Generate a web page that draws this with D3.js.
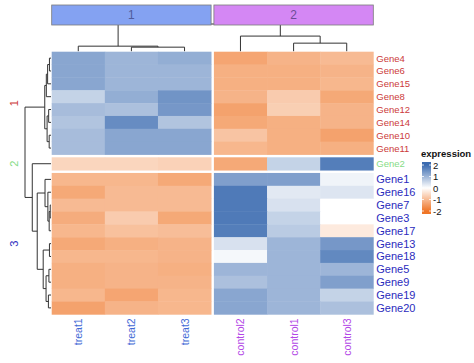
<!DOCTYPE html>
<html>
<head>
<meta charset="utf-8">
<script src="https://cdn.jsdelivr.net/npm/d3@7"></script>
<style>
  body { margin: 0; background: #fff; }
  svg { display: block; font-family: "Liberation Sans", Arial, Helvetica, sans-serif; }
</style>
</head>
<body>
<div id="chart"></div>
<script>
// rows, split in 3 clusters (top to bottom)
const rowSlices = [
  ["Gene4", "Gene6", "Gene15", "Gene8", "Gene12", "Gene14", "Gene10", "Gene11"],
  ["Gene2"],
  ["Gene1", "Gene16", "Gene7", "Gene3", "Gene17", "Gene13", "Gene18", "Gene5", "Gene9", "Gene19", "Gene20"]
];
const rowSliceTitles = ["1", "2", "3"];
const rowSliceColors = ["#cc3b3b", "#86dc86", "#2b2bbd"];
const rowLabelSizes = [9.5, 9.5, 11];

// columns, split in 2 clusters
const colSlices = [["treat1", "treat2", "treat3"], ["control2", "control1", "control3"]];
const colSliceTitles = ["1", "2"];
const colSliceFills = ["#84a2f2", "#d487f4"];
const colSliceTextColors = ["#505c9c", "#6c4c96"];
const colLabelColors = ["#3f69d6", "#b246e6"];

// expression matrix, rows/cols in display order
const expression = [
  [1.2, 1.0, 1.1, -1.3, -1.1, -1.0],     // Gene4
  [1.2, 1.0, 1.0, -1.15, -1.15, -1.1],   // Gene6
  [1.2, 1.0, 1.0, -1.15, -1.15, -1.05],  // Gene15
  [0.6, 1.1, 1.45, -1.1, -0.75, -1.25],  // Gene8
  [0.9, 0.85, 1.4, -1.35, -0.7, -1.1],   // Gene12
  [0.8, 1.55, 0.8, -1.25, -1.15, -1.1],  // Gene14
  [0.9, 1.2, 1.2, -0.85, -1.15, -1.35],  // Gene10
  [0.9, 1.2, 1.2, -1.05, -1.15, -1.15],  // Gene11
  [-0.6, -0.6, -0.65, -1.25, 0.6, 1.75], // Gene2
  [-1.05, -1.05, -1.25, 1.3, 1.3, 0.15], // Gene1
  [-1.25, -1.0, -1.0, 1.8, 0.3, 0.35],   // Gene16
  [-1.0, -1.0, -1.0, 1.8, 0.4, 0.0],     // Gene7
  [-1.2, -0.75, -1.25, 1.8, 0.6, 0.0],   // Gene3
  [-1.05, -0.9, -0.95, 1.75, 0.7, -0.3], // Gene17
  [-1.25, -1.15, -1.1, 0.4, 1.0, 1.4],   // Gene13
  [-1.05, -1.05, -1.1, 0.1, 1.0, 1.6],   // Gene18
  [-1.15, -1.1, -1.15, 1.0, 1.0, 1.0],   // Gene5
  [-1.15, -1.1, -1.1, 0.85, 1.0, 1.3],   // Gene9
  [-1.05, -1.3, -1.05, 1.2, 1.0, 0.6],   // Gene19
  [-1.35, -1.1, -1.05, 1.2, 1.0, 0.85]   // Gene20
];

// dendrograms: [height, left, right], leaves are names
const rowTree = [10,
  [2.4,
    [1.8, [1.3, [0.6, "Gene4", "Gene6"], "Gene15"], "Gene8"],
    [1.5, [0.9, "Gene12", "Gene14"], [0.7, "Gene10", "Gene11"]]],
  [7.2, "Gene2",
    [5.3,
      [2.3, "Gene1", [1.2, "Gene16", [0.7, [0.3, "Gene7", "Gene3"], "Gene17"]]],
      [3.0, [0.6, "Gene13", "Gene18"], [1.9, [0.8, "Gene5", "Gene9"], [1.0, "Gene19", "Gene20"]]]]]];
const colTree = [27,
  [5, "treat1", [4, "treat2", "treat3"]],
  [15, "control2", [8, "control1", "control3"]]];

const legendTicks = [2, 1, 0, -1, -2];

const W = 474, H = 363;
const heat = { left: 51.7, right: 373.3, top: 51.7, bottom: 314.3, gap: 2.8 };

const svg = d3.select("#chart").append("svg").attr("width", W).attr("height", H);

const color = d3.scaleLinear()
  .domain([-2, 0, 2])
  .range(["#ef7526", "#ffffff", "#3b6bb0"])
  .interpolate(d3.interpolateRgb)
  .clamp(true);

// band scale for each slice, laid out with gaps
function sliceScales(slices, start, end, gap) {
  const n = d3.sum(slices, s => s.length);
  const size = (end - start - gap * (slices.length - 1)) / n;
  let pos = start;
  return slices.map(s => {
    const sc = d3.scaleBand().domain(s).range([pos, pos + s.length * size]);
    pos += s.length * size + gap;
    return sc;
  });
}
const colScales = sliceScales(colSlices, heat.left, heat.right, heat.gap);
const rowScales = sliceScales(rowSlices, heat.top, heat.bottom, heat.gap);

const genes = rowSlices.flat();
const samples = colSlices.flat();
const rowOf = g => rowScales.find(s => s.domain().includes(g));
const colOf = c => colScales.find(s => s.domain().includes(c));
const rowMid = g => rowOf(g)(g) + rowOf(g).bandwidth() / 2;
const colMid = c => colOf(c)(c) + colOf(c).bandwidth() / 2;

// heatmap cells
const cells = [];
genes.forEach((g, i) => samples.forEach((s, j) => cells.push({ g, s, v: expression[i][j] })));
svg.append("g").selectAll("rect")
  .data(cells)
  .join("rect")
  .attr("x", d => colOf(d.s)(d.s))
  .attr("y", d => rowOf(d.g)(d.g))
  .attr("width", d => colOf(d.s).bandwidth() + 0.4)
  .attr("height", d => rowOf(d.g).bandwidth() + 0.4)
  .attr("fill", d => color(d.v));

// dendrogram helper
function drawTree(tree, posOf, hScale, horizontal) {
  const root = d3.hierarchy(tree, d => Array.isArray(d) ? d.slice(1) : null);
  root.eachAfter(n => {
    n.h = n.children ? n.data[0] : 0;
    n.p = n.children ? d3.mean(n.children, c => c.p) : posOf(n.data);
  });
  const paths = [];
  root.each(n => {
    if (!n.children) return;
    const [a, b] = n.children;
    if (horizontal) {
      paths.push(`M${hScale(a.h)},${a.p}H${hScale(n.h)}V${b.p}H${hScale(b.h)}`);
    } else {
      paths.push(`M${a.p},${hScale(a.h)}V${hScale(n.h)}H${b.p}V${hScale(b.h)}`);
    }
  });
  return paths;
}

const rowH = d3.scaleLinear().domain([0, 10]).range([51, 25]);
svg.append("g").selectAll("path")
  .data(drawTree(rowTree, rowMid, rowH, true))
  .join("path")
  .attr("d", d => d)
  .attr("fill", "none")
  .attr("stroke", "#333")
  .attr("stroke-width", 1);

const colH = d3.scaleLinear().domain([0, 27]).range([51.2, 24]);
svg.append("g").selectAll("path")
  .data(drawTree(colTree, colMid, colH, false))
  .join("path")
  .attr("d", d => d)
  .attr("fill", "none")
  .attr("stroke", "#333")
  .attr("stroke-width", 1);

// top annotation
const anno = svg.append("g");
colScales.forEach((sc, i) => {
  const [x0, x1] = sc.range();
  anno.append("rect")
    .attr("x", x0).attr("y", 5)
    .attr("width", x1 - x0).attr("height", 20)
    .attr("fill", colSliceFills[i])
    .attr("stroke", "#7a7a7a").attr("stroke-width", 0.8);
  anno.append("text")
    .attr("x", (x0 + x1) / 2).attr("y", 15)
    .attr("text-anchor", "middle").attr("dominant-baseline", "central")
    .attr("font-size", 12).attr("fill", colSliceTextColors[i])
    .text(colSliceTitles[i]);
});

// row slice titles
rowScales.forEach((sc, i) => {
  const [y0, y1] = sc.range();
  svg.append("text")
    .attr("transform", `translate(14,${(y0 + y1) / 2}) rotate(-90)`)
    .attr("text-anchor", "middle").attr("dominant-baseline", "central")
    .attr("font-size", 11).attr("fill", rowSliceColors[i])
    .text(rowSliceTitles[i]);
});

// row labels
rowSlices.forEach((s, i) => {
  svg.append("g").selectAll("text")
    .data(s)
    .join("text")
    .attr("x", heat.right + 3)
    .attr("y", d => rowMid(d))
    .attr("dominant-baseline", "central")
    .attr("font-size", rowLabelSizes[i])
    .attr("fill", rowSliceColors[i])
    .text(d => d);
});

// column labels
colSlices.forEach((s, i) => {
  svg.append("g").selectAll("text")
    .data(s)
    .join("text")
    .attr("transform", d => `translate(${colMid(d)},${heat.bottom + 4}) rotate(-90)`)
    .attr("text-anchor", "end")
    .attr("dominant-baseline", "central")
    .attr("font-size", 10.5)
    .attr("fill", colLabelColors[i])
    .text(d => d);
});

// legend
const lg = svg.append("g");
const ly = d3.scaleLinear().domain([2, -2]).range([165, 211]);
const barTop = 162, barBot = 214, barX = 422, barW = 9;
const grad = svg.append("defs").append("linearGradient")
  .attr("id", "lgrad").attr("x1", 0).attr("x2", 0).attr("y1", 0).attr("y2", 1);
d3.range(0, 1.0001, 0.05).forEach(t => {
  const y = barTop + t * (barBot - barTop);
  grad.append("stop").attr("offset", t).attr("stop-color", color(ly.invert(y)));
});
lg.append("text")
  .attr("x", 421).attr("y", 157)
  .attr("font-size", 9.5).attr("font-weight", "bold").attr("fill", "#111")
  .text("expression");
lg.append("rect")
  .attr("x", barX).attr("y", barTop)
  .attr("width", barW).attr("height", barBot - barTop)
  .attr("fill", "url(#lgrad)");
lg.selectAll("line.tk")
  .data(legendTicks.flatMap(v => [[v, barX, barX + 2], [v, barX + barW - 2, barX + barW]]))
  .join("line").attr("class", "tk")
  .attr("x1", d => d[1]).attr("x2", d => d[2])
  .attr("y1", d => ly(d[0])).attr("y2", d => ly(d[0]))
  .attr("stroke", "#fff").attr("stroke-width", 0.8);
lg.selectAll("text.tl")
  .data(legendTicks)
  .join("text").attr("class", "tl")
  .attr("x", barX + barW + 2)
  .attr("y", d => ly(d))
  .attr("dominant-baseline", "central")
  .attr("font-size", 9.5).attr("fill", "#111")
  .text(d => d);
</script>
</body>
</html>
